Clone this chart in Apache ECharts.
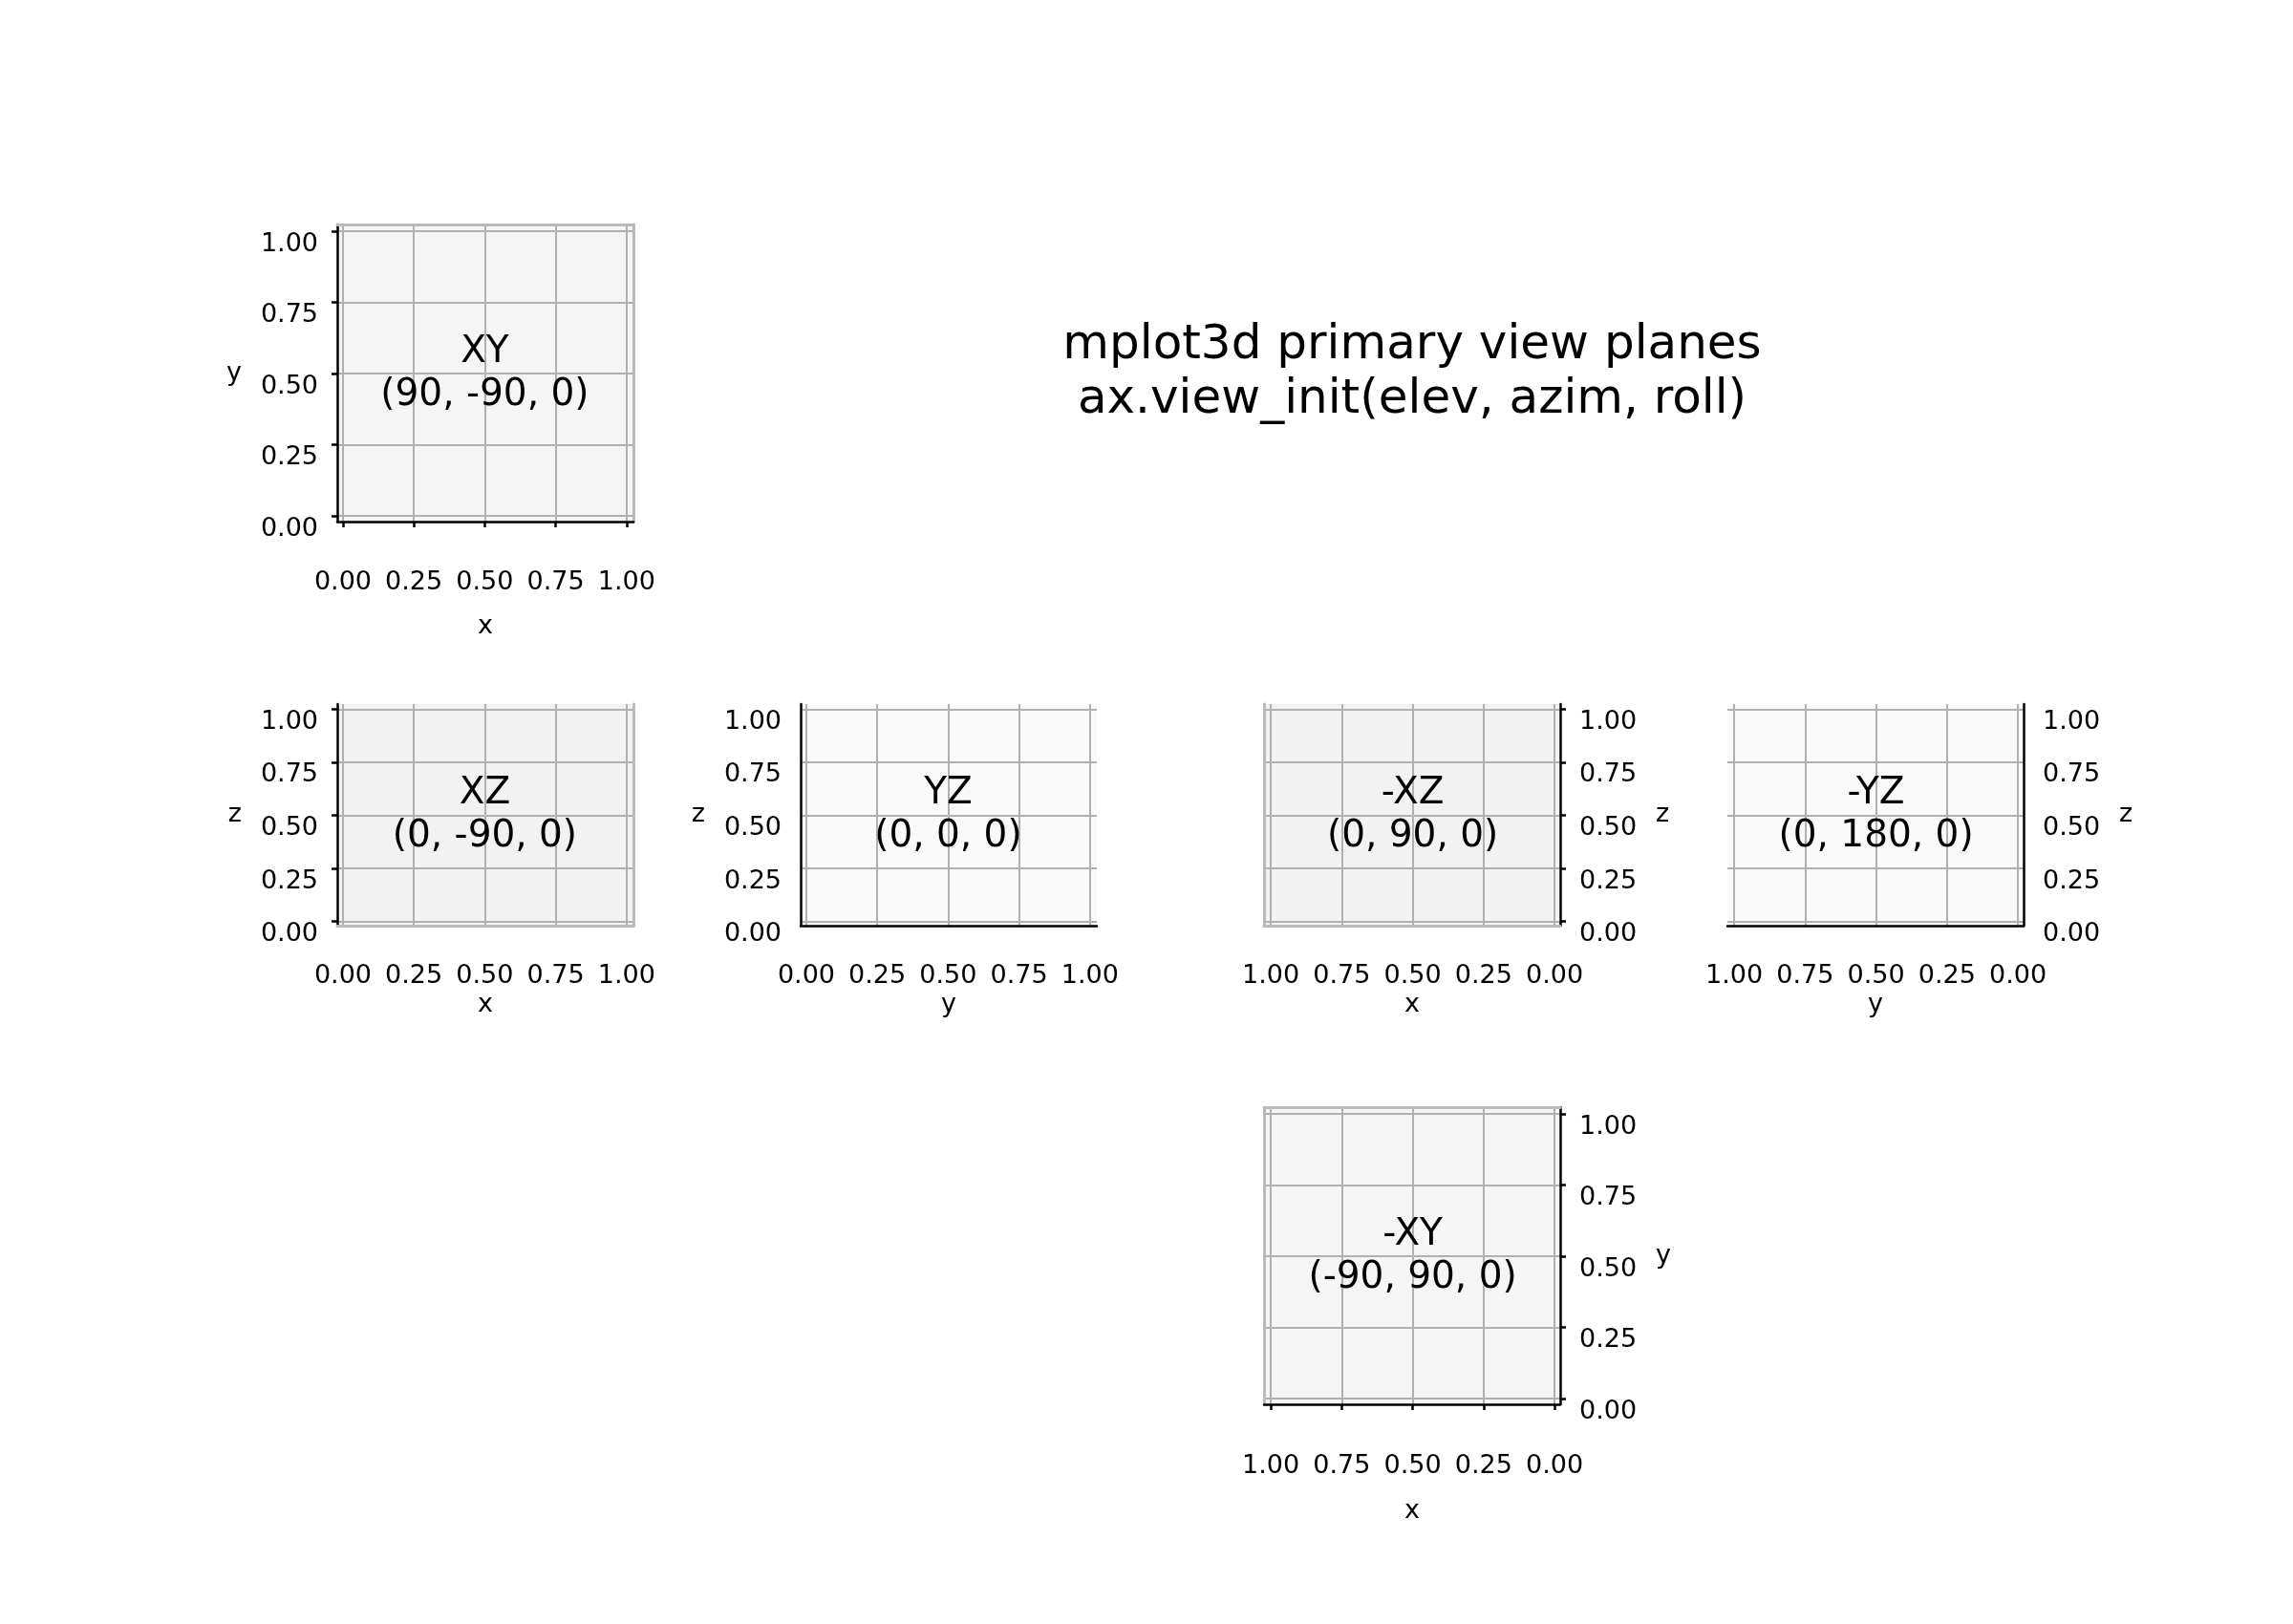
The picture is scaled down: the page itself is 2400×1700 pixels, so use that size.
<!DOCTYPE html>
<html>
<head>
<meta charset="utf-8">
<script src="https://cdn.jsdelivr.net/npm/echarts@6/dist/echarts.min.js"></script>
<style>
html,body{margin:0;padding:0;background:#ffffff;}
#chart{width:2400px;height:1700px;}
</style>
</head>
<body>
<div id="chart"></div>
<script>
// ---- data ----
const tickValues = [0, 0.25, 0.5, 0.75, 1];
const tickLabels = ['0.00', '0.25', '0.50', '0.75', '1.00'];
const panelNames = ['XY', 'XZ', 'YZ', '-XZ', '-YZ', '-XY'];
const viewAngles = ['(90, -90, 0)', '(0, -90, 0)', '(0, 0, 0)', '(0, 90, 0)', '(0, 180, 0)', '(-90, 90, 0)'];
const horizAxisNames = ['x', 'x', 'y', 'x', 'y', 'x'];
const vertAxisNames = ['y', 'z', 'z', 'z', 'z', 'y'];
const horizReversed = [false, false, false, true, true, true];
const labelPoint = [0.5, 0.5];
const titleLines = ['mplot3d primary view planes', 'ax.view_init(elev, azim, roll)'];

// ---- layout / style ----
const FONT = 'DejaVu Sans';
const TICK_FS = 27;
const AX_MIN = -0.02, AX_MAX = 1.024;
const GRID_COLOR = '#b0b0b0';
const EDGE_COLOR = '#bababa';
const panels = [
  {left: 353, top: 235, w: 310, h: 311, pane: '#f5f5f5', vSide: 'left', hBlack: true, hTicks: true, vTicks: true, grayTop: true, grayOpp: true, hMargin: 50, hNameGap: 96},
  {left: 353, top: 737, w: 310, h: 232, pane: '#f2f2f2', vSide: 'left', hBlack: false, hTicks: false, vTicks: true, grayTop: false, grayOpp: true, hMargin: 39, hNameGap: 69},
  {left: 838, top: 737, w: 310, h: 232, pane: '#f9f9f9', vSide: 'left', hBlack: true, hTicks: false, vTicks: false, grayTop: false, grayOpp: false, hMargin: 39, hNameGap: 69},
  {left: 1323, top: 737, w: 310, h: 232, pane: '#f2f2f2', vSide: 'right', hBlack: false, hTicks: false, vTicks: true, grayTop: false, grayOpp: true, hMargin: 39, hNameGap: 69},
  {left: 1808, top: 737, w: 310, h: 232, pane: '#f9f9f9', vSide: 'right', hBlack: true, hTicks: false, vTicks: false, grayTop: false, grayOpp: false, hMargin: 39, hNameGap: 69},
  {left: 1323, top: 1159, w: 310, h: 311, pane: '#f5f5f5', vSide: 'right', hBlack: true, hTicks: true, vTicks: true, grayTop: true, grayOpp: true, hMargin: 51, hNameGap: 98}
];

function fmt(v) {
  for (let k = 0; k < tickValues.length; k++) {
    if (Math.abs(v - tickValues[k]) < 1e-9) return tickLabels[k];
  }
  return '';
}

const grids = [], xAxes = [], yAxes = [], series = [];
panels.forEach((p, i) => {
  grids.push({
    left: p.left, top: p.top, width: p.w, height: p.h,
    show: true, backgroundColor: p.pane, borderWidth: 0,
    containLabel: false
  });
  const xi = xAxes.length;
  xAxes.push({
    type: 'value', gridIndex: i, position: 'bottom',
    min: AX_MIN, max: AX_MAX, inverse: horizReversed[i],
    name: horizAxisNames[i], nameLocation: 'middle', nameGap: p.hNameGap,
    nameTextStyle: {fontFamily: FONT, fontSize: TICK_FS, color: '#000'},
    axisLine: {show: true, onZero: false, lineStyle: {color: p.hBlack ? '#000' : EDGE_COLOR, width: p.hBlack ? 2.5 : 3}},
    axisTick: {show: p.hTicks, customValues: tickValues, length: 6, inside: false, lineStyle: {color: '#000', width: 2.5}},
    axisLabel: {show: true, customValues: tickValues, formatter: fmt, margin: p.hMargin,
      fontFamily: FONT, fontSize: TICK_FS, color: '#000', hideOverlap: false},
    splitLine: {show: true, lineStyle: {color: GRID_COLOR, width: 2}}
  });
  if (p.grayTop) {
    xAxes.push({
      type: 'value', gridIndex: i, position: 'top',
      min: AX_MIN, max: AX_MAX, inverse: horizReversed[i],
      axisLine: {show: true, onZero: false, lineStyle: {color: EDGE_COLOR, width: 3}},
      axisTick: {show: false}, axisLabel: {show: false}, splitLine: {show: false}
    });
  }
  const yi = yAxes.length;
  yAxes.push({
    type: 'value', gridIndex: i, position: p.vSide,
    min: AX_MIN, max: AX_MAX,
    name: vertAxisNames[i], nameLocation: 'middle', nameGap: 100, nameRotate: 0,
    nameTextStyle: {fontFamily: FONT, fontSize: TICK_FS, color: '#000'},
    axisLine: {show: true, onZero: false, lineStyle: {color: '#000', width: 2.5}},
    axisTick: {show: p.vTicks, customValues: tickValues, length: 6, inside: false, lineStyle: {color: '#000', width: 2.5}},
    axisLabel: {show: true, customValues: tickValues, formatter: fmt, margin: 20,
      fontFamily: FONT, fontSize: TICK_FS, color: '#000', verticalAlign: 'top', hideOverlap: false},
    splitLine: {show: true, lineStyle: {color: GRID_COLOR, width: 2}}
  });
  if (p.grayOpp) {
    yAxes.push({
      type: 'value', gridIndex: i, position: p.vSide === 'left' ? 'right' : 'left',
      min: AX_MIN, max: AX_MAX,
      axisLine: {show: true, onZero: false, lineStyle: {color: EDGE_COLOR, width: 3}},
      axisTick: {show: false}, axisLabel: {show: false}, splitLine: {show: false}
    });
  }
  series.push({
    type: 'scatter', xAxisIndex: xi, yAxisIndex: yi,
    data: [labelPoint], symbolSize: 1, silent: true,
    itemStyle: {color: '#ffffff', opacity: 1},
    label: {
      show: true, position: 'inside',
      formatter: panelNames[i] + '\n' + viewAngles[i],
      fontFamily: FONT, fontSize: 39, lineHeight: 45, color: '#000000', align: 'center',
      opacity: 1, textBorderWidth: 0
    },
    emphasis: {disabled: true},
    z: 10
  });
});

const chart = echarts.init(document.getElementById('chart'), null, {renderer: 'canvas'});
chart.setOption({
  backgroundColor: '#ffffff',
  animation: false,
  title: {
    text: titleLines.join('\n'),
    left: 1473, top: 329, textAlign: 'center',
    textStyle: {fontFamily: FONT, fontSize: 50, lineHeight: 57, fontWeight: 'normal', color: '#000'}
  },
  grid: grids,
  xAxis: xAxes,
  yAxis: yAxes,
  series: series
});
</script>
</body>
</html>
